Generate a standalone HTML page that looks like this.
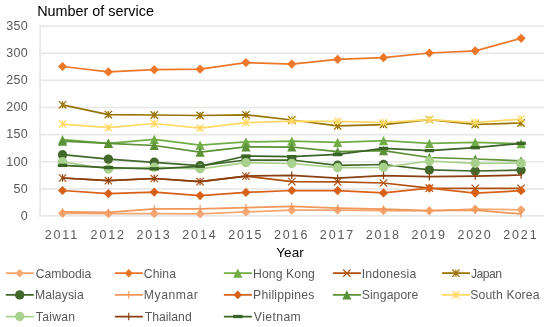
<!DOCTYPE html>
<html><head><meta charset="utf-8"><title>Number of service</title>
<style>html,body{margin:0;padding:0;background:#fff}svg{display:block}</style></head>
<body>
<svg width="550" height="327" viewBox="0 0 550 327">
<rect width="550" height="327" fill="#fff"/>
<line x1="39.2" y1="26.20" x2="544.0" y2="26.20" stroke="#E8E8E8" stroke-width="1.7"/>
<line x1="39.2" y1="53.31" x2="544.0" y2="53.31" stroke="#E8E8E8" stroke-width="1.7"/>
<line x1="39.2" y1="80.41" x2="544.0" y2="80.41" stroke="#E8E8E8" stroke-width="1.7"/>
<line x1="39.2" y1="107.52" x2="544.0" y2="107.52" stroke="#E8E8E8" stroke-width="1.7"/>
<line x1="39.2" y1="134.63" x2="544.0" y2="134.63" stroke="#E8E8E8" stroke-width="1.7"/>
<line x1="39.2" y1="161.74" x2="544.0" y2="161.74" stroke="#E8E8E8" stroke-width="1.7"/>
<line x1="39.2" y1="188.84" x2="544.0" y2="188.84" stroke="#E8E8E8" stroke-width="1.7"/>
<line x1="39.2" y1="215.95" x2="544.0" y2="215.95" stroke="#E8E8E8" stroke-width="1.7"/>
<line x1="40.1" y1="25.35" x2="40.1" y2="216.8" stroke="#E8E8E8" stroke-width="1.7"/>
<g font-family="'Liberation Sans', sans-serif" font-size="12.5" fill="#595959" text-anchor="end" letter-spacing="0.3">
<text x="27.9" y="30.05">350</text>
<text x="27.9" y="57.16">300</text>
<text x="27.9" y="84.26">250</text>
<text x="27.9" y="111.37">200</text>
<text x="27.9" y="138.48">150</text>
<text x="27.9" y="165.59">100</text>
<text x="27.9" y="192.69">50</text>
<text x="27.9" y="219.80">0</text>
</g>
<g font-family="'Liberation Sans', sans-serif" font-size="12.5" fill="#595959" letter-spacing="1.85">
<text x="44.73" y="238.9">2011</text>
<text x="90.58" y="238.9">2012</text>
<text x="136.44" y="238.9">2013</text>
<text x="182.29" y="238.9">2014</text>
<text x="228.15" y="238.9">2015</text>
<text x="274.00" y="238.9">2016</text>
<text x="319.85" y="238.9">2017</text>
<text x="365.71" y="238.9">2018</text>
<text x="411.56" y="238.9">2019</text>
<text x="457.42" y="238.9">2020</text>
<text x="503.27" y="238.9">2021</text>
</g>
<text x="37.2" y="15.9" font-family="'Liberation Sans', sans-serif" font-size="14.4" fill="#000">Number of service</text>
<text x="290" y="257.3" text-anchor="middle" font-family="'Liberation Sans', sans-serif" font-size="13.5" fill="#000">Year</text>
<g><polyline points="62.53,213.30 108.38,213.70 154.24,213.60 200.09,213.80 245.95,211.90 291.80,210.20 337.65,210.20 383.51,210.60 429.36,210.80 475.22,209.20 521.07,209.80" fill="none" stroke="#F4A772" stroke-width="1.75" stroke-linejoin="round" stroke-linecap="round"/>
<path d="M62.53 208.70L67.13 213.30L62.53 217.90L57.93 213.30Z" fill="#F4A772"/>
<path d="M108.38 209.10L112.98 213.70L108.38 218.30L103.78 213.70Z" fill="#F4A772"/>
<path d="M154.24 209.00L158.84 213.60L154.24 218.20L149.64 213.60Z" fill="#F4A772"/>
<path d="M200.09 209.20L204.69 213.80L200.09 218.40L195.49 213.80Z" fill="#F4A772"/>
<path d="M245.95 207.30L250.55 211.90L245.95 216.50L241.35 211.90Z" fill="#F4A772"/>
<path d="M291.80 205.60L296.40 210.20L291.80 214.80L287.20 210.20Z" fill="#F4A772"/>
<path d="M337.65 205.60L342.25 210.20L337.65 214.80L333.05 210.20Z" fill="#F4A772"/>
<path d="M383.51 206.00L388.11 210.60L383.51 215.20L378.91 210.60Z" fill="#F4A772"/>
<path d="M429.36 206.20L433.96 210.80L429.36 215.40L424.76 210.80Z" fill="#F4A772"/>
<path d="M475.22 204.60L479.82 209.20L475.22 213.80L470.62 209.20Z" fill="#F4A772"/>
<path d="M521.07 205.20L525.67 209.80L521.07 214.40L516.47 209.80Z" fill="#F4A772"/>
</g>
<g><polyline points="62.53,66.50 108.38,71.90 154.24,69.70 200.09,69.20 245.95,62.60 291.80,64.10 337.65,59.30 383.51,57.70 429.36,53.00 475.22,50.80 521.07,38.30" fill="none" stroke="#EC7729" stroke-width="1.75" stroke-linejoin="round" stroke-linecap="round"/>
<path d="M62.53 61.90L67.13 66.50L62.53 71.10L57.93 66.50Z" fill="#EC7729"/>
<path d="M108.38 67.30L112.98 71.90L108.38 76.50L103.78 71.90Z" fill="#EC7729"/>
<path d="M154.24 65.10L158.84 69.70L154.24 74.30L149.64 69.70Z" fill="#EC7729"/>
<path d="M200.09 64.60L204.69 69.20L200.09 73.80L195.49 69.20Z" fill="#EC7729"/>
<path d="M245.95 58.00L250.55 62.60L245.95 67.20L241.35 62.60Z" fill="#EC7729"/>
<path d="M291.80 59.50L296.40 64.10L291.80 68.70L287.20 64.10Z" fill="#EC7729"/>
<path d="M337.65 54.70L342.25 59.30L337.65 63.90L333.05 59.30Z" fill="#EC7729"/>
<path d="M383.51 53.10L388.11 57.70L383.51 62.30L378.91 57.70Z" fill="#EC7729"/>
<path d="M429.36 48.40L433.96 53.00L429.36 57.60L424.76 53.00Z" fill="#EC7729"/>
<path d="M475.22 46.20L479.82 50.80L475.22 55.40L470.62 50.80Z" fill="#EC7729"/>
<path d="M521.07 33.70L525.67 38.30L521.07 42.90L516.47 38.30Z" fill="#EC7729"/>
</g>
<g><polyline points="62.53,139.70 108.38,143.30 154.24,139.30 200.09,145.20 245.95,141.90 291.80,141.10 337.65,142.40 383.51,140.60 429.36,143.30 475.22,142.40 521.07,143.70" fill="none" stroke="#70AD47" stroke-width="1.75" stroke-linejoin="round" stroke-linecap="round"/>
<path d="M62.53 135.10L67.13 144.30L57.93 144.30Z" fill="#70AD47"/>
<path d="M108.38 138.70L112.98 147.90L103.78 147.90Z" fill="#70AD47"/>
<path d="M154.24 134.70L158.84 143.90L149.64 143.90Z" fill="#70AD47"/>
<path d="M200.09 140.60L204.69 149.80L195.49 149.80Z" fill="#70AD47"/>
<path d="M245.95 137.30L250.55 146.50L241.35 146.50Z" fill="#70AD47"/>
<path d="M291.80 136.50L296.40 145.70L287.20 145.70Z" fill="#70AD47"/>
<path d="M337.65 137.80L342.25 147.00L333.05 147.00Z" fill="#70AD47"/>
<path d="M383.51 136.00L388.11 145.20L378.91 145.20Z" fill="#70AD47"/>
<path d="M429.36 138.70L433.96 147.90L424.76 147.90Z" fill="#70AD47"/>
<path d="M475.22 137.80L479.82 147.00L470.62 147.00Z" fill="#70AD47"/>
<path d="M521.07 139.10L525.67 148.30L516.47 148.30Z" fill="#70AD47"/>
</g>
<g><polyline points="62.53,178.00 108.38,180.70 154.24,178.50 200.09,181.60 245.95,176.10 291.80,181.60 337.65,181.90 383.51,183.00 429.36,188.20 475.22,188.40 521.07,188.30" fill="none" stroke="#B0500F" stroke-width="1.75" stroke-linejoin="round" stroke-linecap="round"/>
<path d="M58.83 174.30L66.23 181.70M58.83 181.70L66.23 174.30" stroke="#B0500F" stroke-width="1.2" fill="none"/>
<path d="M104.68 177.00L112.08 184.40M104.68 184.40L112.08 177.00" stroke="#B0500F" stroke-width="1.2" fill="none"/>
<path d="M150.54 174.80L157.94 182.20M150.54 182.20L157.94 174.80" stroke="#B0500F" stroke-width="1.2" fill="none"/>
<path d="M196.39 177.90L203.79 185.30M196.39 185.30L203.79 177.90" stroke="#B0500F" stroke-width="1.2" fill="none"/>
<path d="M242.25 172.40L249.65 179.80M242.25 179.80L249.65 172.40" stroke="#B0500F" stroke-width="1.2" fill="none"/>
<path d="M288.10 177.90L295.50 185.30M288.10 185.30L295.50 177.90" stroke="#B0500F" stroke-width="1.2" fill="none"/>
<path d="M333.95 178.20L341.35 185.60M333.95 185.60L341.35 178.20" stroke="#B0500F" stroke-width="1.2" fill="none"/>
<path d="M379.81 179.30L387.21 186.70M379.81 186.70L387.21 179.30" stroke="#B0500F" stroke-width="1.2" fill="none"/>
<path d="M425.66 184.50L433.06 191.90M425.66 191.90L433.06 184.50" stroke="#B0500F" stroke-width="1.2" fill="none"/>
<path d="M471.52 184.70L478.92 192.10M471.52 192.10L478.92 184.70" stroke="#B0500F" stroke-width="1.2" fill="none"/>
<path d="M517.37 184.60L524.77 192.00M517.37 192.00L524.77 184.60" stroke="#B0500F" stroke-width="1.2" fill="none"/>
</g>
<g><polyline points="62.53,104.80 108.38,114.60 154.24,115.00 200.09,115.50 245.95,114.80 291.80,120.00 337.65,125.90 383.51,124.60 429.36,119.60 475.22,124.50 521.07,123.00" fill="none" stroke="#997300" stroke-width="1.75" stroke-linejoin="round" stroke-linecap="round"/>
<path d="M58.83 101.10L66.23 108.50M58.83 108.50L66.23 101.10M62.53 101.30L62.53 108.30" stroke="#997300" stroke-width="1.3" fill="none"/>
<path d="M104.68 110.90L112.08 118.30M104.68 118.30L112.08 110.90M108.38 111.10L108.38 118.10" stroke="#997300" stroke-width="1.3" fill="none"/>
<path d="M150.54 111.30L157.94 118.70M150.54 118.70L157.94 111.30M154.24 111.50L154.24 118.50" stroke="#997300" stroke-width="1.3" fill="none"/>
<path d="M196.39 111.80L203.79 119.20M196.39 119.20L203.79 111.80M200.09 112.00L200.09 119.00" stroke="#997300" stroke-width="1.3" fill="none"/>
<path d="M242.25 111.10L249.65 118.50M242.25 118.50L249.65 111.10M245.95 111.30L245.95 118.30" stroke="#997300" stroke-width="1.3" fill="none"/>
<path d="M288.10 116.30L295.50 123.70M288.10 123.70L295.50 116.30M291.80 116.50L291.80 123.50" stroke="#997300" stroke-width="1.3" fill="none"/>
<path d="M333.95 122.20L341.35 129.60M333.95 129.60L341.35 122.20M337.65 122.40L337.65 129.40" stroke="#997300" stroke-width="1.3" fill="none"/>
<path d="M379.81 120.90L387.21 128.30M379.81 128.30L387.21 120.90M383.51 121.10L383.51 128.10" stroke="#997300" stroke-width="1.3" fill="none"/>
<path d="M425.66 115.90L433.06 123.30M425.66 123.30L433.06 115.90M429.36 116.10L429.36 123.10" stroke="#997300" stroke-width="1.3" fill="none"/>
<path d="M471.52 120.80L478.92 128.20M471.52 128.20L478.92 120.80M475.22 121.00L475.22 128.00" stroke="#997300" stroke-width="1.3" fill="none"/>
<path d="M517.37 119.30L524.77 126.70M517.37 126.70L524.77 119.30M521.07 119.50L521.07 126.50" stroke="#997300" stroke-width="1.3" fill="none"/>
</g>
<g><polyline points="62.53,154.70 108.38,159.10 154.24,162.30 200.09,165.70 245.95,160.00 291.80,160.00 337.65,165.30 383.51,164.50 429.36,169.90 475.22,171.00 521.07,170.10" fill="none" stroke="#43682B" stroke-width="1.75" stroke-linejoin="round" stroke-linecap="round"/>
<circle cx="62.53" cy="154.70" r="4.70" fill="#43682B"/>
<circle cx="108.38" cy="159.10" r="4.70" fill="#43682B"/>
<circle cx="154.24" cy="162.30" r="4.70" fill="#43682B"/>
<circle cx="200.09" cy="165.70" r="4.70" fill="#43682B"/>
<circle cx="245.95" cy="160.00" r="4.70" fill="#43682B"/>
<circle cx="291.80" cy="160.00" r="4.70" fill="#43682B"/>
<circle cx="337.65" cy="165.30" r="4.70" fill="#43682B"/>
<circle cx="383.51" cy="164.50" r="4.70" fill="#43682B"/>
<circle cx="429.36" cy="169.90" r="4.70" fill="#43682B"/>
<circle cx="475.22" cy="171.00" r="4.70" fill="#43682B"/>
<circle cx="521.07" cy="170.10" r="4.70" fill="#43682B"/>
</g>
<g><polyline points="62.53,211.90 108.38,212.40 154.24,208.90 200.09,208.80 245.95,207.70 291.80,206.40 337.65,208.20 383.51,209.10 429.36,210.50 475.22,210.20 521.07,213.90" fill="none" stroke="#F1975A" stroke-width="1.75" stroke-linejoin="round" stroke-linecap="round"/>
<path d="M62.53 208.20L62.53 215.60" stroke="#F1975A" stroke-width="1.2" fill="none"/>
<path d="M108.38 208.70L108.38 216.10" stroke="#F1975A" stroke-width="1.2" fill="none"/>
<path d="M154.24 205.20L154.24 212.60" stroke="#F1975A" stroke-width="1.2" fill="none"/>
<path d="M200.09 205.10L200.09 212.50" stroke="#F1975A" stroke-width="1.2" fill="none"/>
<path d="M245.95 204.00L245.95 211.40" stroke="#F1975A" stroke-width="1.2" fill="none"/>
<path d="M291.80 202.70L291.80 210.10" stroke="#F1975A" stroke-width="1.2" fill="none"/>
<path d="M337.65 204.50L337.65 211.90" stroke="#F1975A" stroke-width="1.2" fill="none"/>
<path d="M383.51 205.40L383.51 212.80" stroke="#F1975A" stroke-width="1.2" fill="none"/>
<path d="M429.36 206.80L429.36 214.20" stroke="#F1975A" stroke-width="1.2" fill="none"/>
<path d="M475.22 206.50L475.22 213.90" stroke="#F1975A" stroke-width="1.2" fill="none"/>
<path d="M521.07 210.20L521.07 217.60" stroke="#F1975A" stroke-width="1.2" fill="none"/>
</g>
<g><polyline points="62.53,190.50 108.38,193.60 154.24,192.10 200.09,195.60 245.95,192.40 291.80,190.50 337.65,190.60 383.51,192.90 429.36,188.20 475.22,193.10 521.07,190.70" fill="none" stroke="#D8611A" stroke-width="1.75" stroke-linejoin="round" stroke-linecap="round"/>
<path d="M62.53 185.90L67.13 190.50L62.53 195.10L57.93 190.50Z" fill="#D8611A"/>
<path d="M108.38 189.00L112.98 193.60L108.38 198.20L103.78 193.60Z" fill="#D8611A"/>
<path d="M154.24 187.50L158.84 192.10L154.24 196.70L149.64 192.10Z" fill="#D8611A"/>
<path d="M200.09 191.00L204.69 195.60L200.09 200.20L195.49 195.60Z" fill="#D8611A"/>
<path d="M245.95 187.80L250.55 192.40L245.95 197.00L241.35 192.40Z" fill="#D8611A"/>
<path d="M291.80 185.90L296.40 190.50L291.80 195.10L287.20 190.50Z" fill="#D8611A"/>
<path d="M337.65 186.00L342.25 190.60L337.65 195.20L333.05 190.60Z" fill="#D8611A"/>
<path d="M383.51 188.30L388.11 192.90L383.51 197.50L378.91 192.90Z" fill="#D8611A"/>
<path d="M429.36 183.60L433.96 188.20L429.36 192.80L424.76 188.20Z" fill="#D8611A"/>
<path d="M475.22 188.50L479.82 193.10L475.22 197.70L470.62 193.10Z" fill="#D8611A"/>
<path d="M521.07 186.10L525.67 190.70L521.07 195.30L516.47 190.70Z" fill="#D8611A"/>
</g>
<g><polyline points="62.53,141.20 108.38,143.30 154.24,145.50 200.09,152.20 245.95,146.90 291.80,147.00 337.65,151.60 383.51,150.70 429.36,157.50 475.22,159.00 521.07,160.80" fill="none" stroke="#5B9137" stroke-width="1.75" stroke-linejoin="round" stroke-linecap="round"/>
<path d="M62.53 136.60L67.13 145.80L57.93 145.80Z" fill="#5B9137"/>
<path d="M108.38 138.70L112.98 147.90L103.78 147.90Z" fill="#5B9137"/>
<path d="M154.24 140.90L158.84 150.10L149.64 150.10Z" fill="#5B9137"/>
<path d="M200.09 147.60L204.69 156.80L195.49 156.80Z" fill="#5B9137"/>
<path d="M245.95 142.30L250.55 151.50L241.35 151.50Z" fill="#5B9137"/>
<path d="M291.80 142.40L296.40 151.60L287.20 151.60Z" fill="#5B9137"/>
<path d="M337.65 147.00L342.25 156.20L333.05 156.20Z" fill="#5B9137"/>
<path d="M383.51 146.10L388.11 155.30L378.91 155.30Z" fill="#5B9137"/>
<path d="M429.36 152.90L433.96 162.10L424.76 162.10Z" fill="#5B9137"/>
<path d="M475.22 154.40L479.82 163.60L470.62 163.60Z" fill="#5B9137"/>
<path d="M521.07 156.20L525.67 165.40L516.47 165.40Z" fill="#5B9137"/>
</g>
<g><polyline points="62.53,124.10 108.38,127.70 154.24,123.50 200.09,128.20 245.95,122.60 291.80,121.10 337.65,121.40 383.51,122.60 429.36,119.60 475.22,122.60 521.07,119.10" fill="none" stroke="#FFD966" stroke-width="1.75" stroke-linejoin="round" stroke-linecap="round"/>
<path d="M58.83 120.40L66.23 127.80M58.83 127.80L66.23 120.40M62.53 120.60L62.53 127.60" stroke="#FFD966" stroke-width="1.3" fill="none"/>
<path d="M104.68 124.00L112.08 131.40M104.68 131.40L112.08 124.00M108.38 124.20L108.38 131.20" stroke="#FFD966" stroke-width="1.3" fill="none"/>
<path d="M150.54 119.80L157.94 127.20M150.54 127.20L157.94 119.80M154.24 120.00L154.24 127.00" stroke="#FFD966" stroke-width="1.3" fill="none"/>
<path d="M196.39 124.50L203.79 131.90M196.39 131.90L203.79 124.50M200.09 124.70L200.09 131.70" stroke="#FFD966" stroke-width="1.3" fill="none"/>
<path d="M242.25 118.90L249.65 126.30M242.25 126.30L249.65 118.90M245.95 119.10L245.95 126.10" stroke="#FFD966" stroke-width="1.3" fill="none"/>
<path d="M288.10 117.40L295.50 124.80M288.10 124.80L295.50 117.40M291.80 117.60L291.80 124.60" stroke="#FFD966" stroke-width="1.3" fill="none"/>
<path d="M333.95 117.70L341.35 125.10M333.95 125.10L341.35 117.70M337.65 117.90L337.65 124.90" stroke="#FFD966" stroke-width="1.3" fill="none"/>
<path d="M379.81 118.90L387.21 126.30M379.81 126.30L387.21 118.90M383.51 119.10L383.51 126.10" stroke="#FFD966" stroke-width="1.3" fill="none"/>
<path d="M425.66 115.90L433.06 123.30M425.66 123.30L433.06 115.90M429.36 116.10L429.36 123.10" stroke="#FFD966" stroke-width="1.3" fill="none"/>
<path d="M471.52 118.90L478.92 126.30M471.52 126.30L478.92 118.90M475.22 119.10L475.22 126.10" stroke="#FFD966" stroke-width="1.3" fill="none"/>
<path d="M517.37 115.40L524.77 122.80M517.37 122.80L524.77 115.40M521.07 115.60L521.07 122.60" stroke="#FFD966" stroke-width="1.3" fill="none"/>
</g>
<g><polyline points="62.53,161.80 108.38,169.00 154.24,167.20 200.09,168.80 245.95,162.60 291.80,163.50 337.65,167.70 383.51,167.40 429.36,161.00 475.22,163.30 521.07,163.10" fill="none" stroke="#A9D18E" stroke-width="1.75" stroke-linejoin="round" stroke-linecap="round"/>
<circle cx="62.53" cy="161.80" r="4.70" fill="#A9D18E"/>
<circle cx="108.38" cy="169.00" r="4.70" fill="#A9D18E"/>
<circle cx="154.24" cy="167.20" r="4.70" fill="#A9D18E"/>
<circle cx="200.09" cy="168.80" r="4.70" fill="#A9D18E"/>
<circle cx="245.95" cy="162.60" r="4.70" fill="#A9D18E"/>
<circle cx="291.80" cy="163.50" r="4.70" fill="#A9D18E"/>
<circle cx="337.65" cy="167.70" r="4.70" fill="#A9D18E"/>
<circle cx="383.51" cy="167.40" r="4.70" fill="#A9D18E"/>
<circle cx="429.36" cy="161.00" r="4.70" fill="#A9D18E"/>
<circle cx="475.22" cy="163.30" r="4.70" fill="#A9D18E"/>
<circle cx="521.07" cy="163.10" r="4.70" fill="#A9D18E"/>
</g>
<g><polyline points="62.53,178.00 108.38,180.70 154.24,178.50 200.09,181.60 245.95,176.10 291.80,175.30 337.65,178.20 383.51,175.60 429.36,176.70 475.22,176.10 521.07,175.00" fill="none" stroke="#8A3F10" stroke-width="1.75" stroke-linejoin="round" stroke-linecap="round"/>
<path d="M62.53 174.30L62.53 181.70" stroke="#8A3F10" stroke-width="1.2" fill="none"/>
<path d="M108.38 177.00L108.38 184.40" stroke="#8A3F10" stroke-width="1.2" fill="none"/>
<path d="M154.24 174.80L154.24 182.20" stroke="#8A3F10" stroke-width="1.2" fill="none"/>
<path d="M200.09 177.90L200.09 185.30" stroke="#8A3F10" stroke-width="1.2" fill="none"/>
<path d="M245.95 172.40L245.95 179.80" stroke="#8A3F10" stroke-width="1.2" fill="none"/>
<path d="M291.80 171.60L291.80 179.00" stroke="#8A3F10" stroke-width="1.2" fill="none"/>
<path d="M337.65 174.50L337.65 181.90" stroke="#8A3F10" stroke-width="1.2" fill="none"/>
<path d="M383.51 171.90L383.51 179.30" stroke="#8A3F10" stroke-width="1.2" fill="none"/>
<path d="M429.36 173.00L429.36 180.40" stroke="#8A3F10" stroke-width="1.2" fill="none"/>
<path d="M475.22 172.40L475.22 179.80" stroke="#8A3F10" stroke-width="1.2" fill="none"/>
<path d="M521.07 171.30L521.07 178.70" stroke="#8A3F10" stroke-width="1.2" fill="none"/>
</g>
<g><polyline points="62.53,165.40 108.38,167.60 154.24,168.80 200.09,166.30 245.95,156.00 291.80,156.60 337.65,154.40 383.51,148.40 429.36,150.60 475.22,147.70 521.07,143.30" fill="none" stroke="#3B6427" stroke-width="1.75" stroke-linejoin="round" stroke-linecap="round"/>
<rect x="57.83" y="163.75" width="9.40" height="3.3" fill="#3B6427"/>
<rect x="103.68" y="165.95" width="9.40" height="3.3" fill="#3B6427"/>
<rect x="149.54" y="167.15" width="9.40" height="3.3" fill="#3B6427"/>
<rect x="195.39" y="164.65" width="9.40" height="3.3" fill="#3B6427"/>
<rect x="241.25" y="154.35" width="9.40" height="3.3" fill="#3B6427"/>
<rect x="287.10" y="154.95" width="9.40" height="3.3" fill="#3B6427"/>
<rect x="332.95" y="152.75" width="9.40" height="3.3" fill="#3B6427"/>
<rect x="378.81" y="146.75" width="9.40" height="3.3" fill="#3B6427"/>
<rect x="424.66" y="148.95" width="9.40" height="3.3" fill="#3B6427"/>
<rect x="470.52" y="146.05" width="9.40" height="3.3" fill="#3B6427"/>
<rect x="516.37" y="141.65" width="9.40" height="3.3" fill="#3B6427"/>
</g>
<g font-family="'Liberation Sans', sans-serif" font-size="12.2" fill="#595959">
<line x1="6.50" y1="273.2" x2="33.10" y2="273.2" stroke="#F4A772" stroke-width="1.75" stroke-linecap="round"/>
<path d="M19.70 268.92L23.98 273.20L19.70 277.48L15.42 273.20Z" fill="#F4A772"/>
<text x="35.76" y="277.60" letter-spacing="0.000">Cambodia</text>
<line x1="115.55" y1="273.2" x2="142.15" y2="273.2" stroke="#EC7729" stroke-width="1.75" stroke-linecap="round"/>
<path d="M128.75 268.92L133.03 273.20L128.75 277.48L124.47 273.20Z" fill="#EC7729"/>
<text x="143.85" y="277.60" letter-spacing="0.080">China</text>
<line x1="224.60" y1="273.2" x2="251.20" y2="273.2" stroke="#70AD47" stroke-width="1.75" stroke-linecap="round"/>
<path d="M237.80 268.60L242.40 277.80L233.20 277.80Z" fill="#70AD47"/>
<text x="253.06" y="277.60" letter-spacing="0.100">Hong Kong</text>
<line x1="333.65" y1="273.2" x2="360.25" y2="273.2" stroke="#B0500F" stroke-width="1.75" stroke-linecap="round"/>
<path d="M343.15 269.50L350.55 276.90M343.15 276.90L350.55 269.50" stroke="#B0500F" stroke-width="1.2" fill="none"/>
<text x="361.79" y="277.60" letter-spacing="0.200">Indonesia</text>
<line x1="442.70" y1="273.2" x2="469.30" y2="273.2" stroke="#997300" stroke-width="1.75" stroke-linecap="round"/>
<path d="M452.20 269.50L459.60 276.90M452.20 276.90L459.60 269.50M455.90 269.70L455.90 276.70" stroke="#997300" stroke-width="1.3" fill="none"/>
<text x="471.00" y="277.60" letter-spacing="-0.520">Japan</text>
<line x1="6.50" y1="294.9" x2="33.10" y2="294.9" stroke="#43682B" stroke-width="1.75" stroke-linecap="round"/>
<circle cx="19.70" cy="294.90" r="4.70" fill="#43682B"/>
<text x="34.96" y="299.30" letter-spacing="0.091">Malaysia</text>
<line x1="115.55" y1="294.9" x2="142.15" y2="294.9" stroke="#F1975A" stroke-width="1.75" stroke-linecap="round"/>
<path d="M128.75 291.20L128.75 298.60" stroke="#F1975A" stroke-width="1.2" fill="none"/>
<text x="143.85" y="299.30" letter-spacing="0.533">Myanmar</text>
<line x1="224.60" y1="294.9" x2="251.20" y2="294.9" stroke="#D8611A" stroke-width="1.75" stroke-linecap="round"/>
<path d="M237.80 290.62L242.08 294.90L237.80 299.18L233.52 294.90Z" fill="#D8611A"/>
<text x="253.06" y="299.30" letter-spacing="0.240">Philippines</text>
<line x1="333.65" y1="294.9" x2="360.25" y2="294.9" stroke="#5B9137" stroke-width="1.75" stroke-linecap="round"/>
<path d="M346.85 290.30L351.45 299.50L342.25 299.50Z" fill="#5B9137"/>
<text x="361.79" y="299.30" letter-spacing="0.120">Singapore</text>
<line x1="442.70" y1="294.9" x2="469.30" y2="294.9" stroke="#FFD966" stroke-width="1.75" stroke-linecap="round"/>
<path d="M452.20 291.20L459.60 298.60M452.20 298.60L459.60 291.20M455.90 291.40L455.90 298.40" stroke="#FFD966" stroke-width="1.3" fill="none"/>
<text x="470.20" y="299.30" letter-spacing="0.160">South Korea</text>
<line x1="6.50" y1="316.5" x2="33.10" y2="316.5" stroke="#A9D18E" stroke-width="1.75" stroke-linecap="round"/>
<circle cx="19.70" cy="316.50" r="4.70" fill="#A9D18E"/>
<text x="35.76" y="320.90" letter-spacing="0.288">Taiwan</text>
<line x1="115.55" y1="316.5" x2="142.15" y2="316.5" stroke="#8A3F10" stroke-width="1.75" stroke-linecap="round"/>
<path d="M128.75 312.80L128.75 320.20" stroke="#8A3F10" stroke-width="1.2" fill="none"/>
<text x="144.65" y="320.90" letter-spacing="0.046">Thailand</text>
<line x1="224.60" y1="316.5" x2="251.20" y2="316.5" stroke="#3B6427" stroke-width="1.75" stroke-linecap="round"/>
<rect x="233.10" y="314.85" width="9.40" height="3.3" fill="#3B6427"/>
<text x="253.86" y="320.90" letter-spacing="0.400">Vietnam</text>
</g>
</svg>
</body></html>
